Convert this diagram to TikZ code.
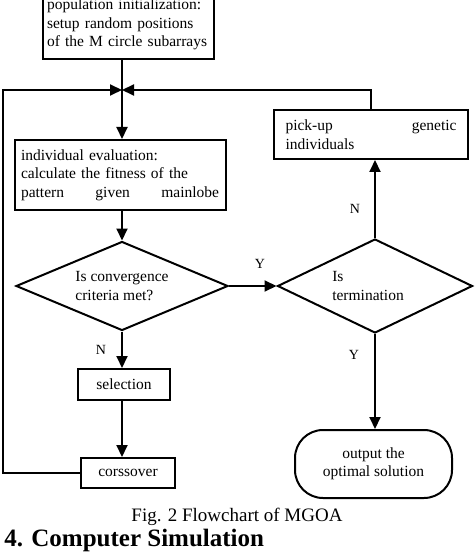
\documentclass[tikz,border=0pt]{standalone}
\usepackage{fontspec}
\setmainfont{Liberation Serif}
\usetikzlibrary{shapes.geometric,arrows.meta}
\begin{document}
\begin{tikzpicture}[x=1pt, y=-1pt, line width=2pt, >={Triangle[length=12pt,width=11pt]},
	font=\fontsize{15.5}{18.5}\selectfont,
	box/.style={draw, rectangle, inner sep=0pt, align=left},
	decision/.style={draw, diamond, inner sep=0pt, align=left},
	stop/.style={draw, rectangle, rounded corners=28pt, inner sep=0pt, align=center},
	lbl/.style={font=\fontsize{14}{16}\selectfont}]
	\useasboundingbox (0,0) rectangle (474,553);
	% boxes
	\node[box, minimum width=171, minimum height=69, text width=162] (init) at (128,24.5) {population initialization:\\setup random positions\\of the M circle subarrays};
	\node[box, minimum width=211, minimum height=70, text width=198] (eval) at (120,175) {individual evaluation:\\calculate the fitness of the\\pattern\hfill given\hfill mainlobe};
	\node[decision, minimum width=212, minimum height=89, shape aspect=2.4] (conv) at (122,286) {Is convergence\\criteria met?};
	\node[decision, minimum width=195, minimum height=94, shape aspect=2] (term) at (375,286) {};
	\node[align=left] (termtext) at (368,286) {Is\\termination};
	\node[box, minimum width=194, minimum height=49, text width=171] (pick) at (371,134.5) {pick-up\hfill genetic\\individuals};
	\node[box, align=center, minimum width=92, minimum height=31] (sel) at (124,384.5) {selection};
	\node[box, align=center, minimum width=94, minimum height=30] (cross) at (128,473) {corssover};
	\node[stop, minimum width=157, minimum height=68] (out) at (373.5,464) {output the\\optimal solution};
	% labels
	\node[lbl] (yconv) at (260,264) {Y};
	\node[lbl] (nconv) at (101,350) {N};
	\node[lbl] (nterm) at (355,209) {N};
	\node[lbl] (yterm) at (354,355) {Y};
	% connectors
	\coordinate (junc) at (122,90);
	\coordinate (lft) at (3,90);
	\draw (init.south -| junc) -- (junc);
	\draw[->] (cross.west) -| (lft) -- (junc);
	\draw[->] (pick.north) |- (junc);
	\draw[->] (junc) -- (eval.north -| junc);
	\draw[->] (eval.south -| junc) -- (conv.north);
	\draw[->] (conv.east) -- (term.west);
	\draw[->] (conv.south) -- (sel.north -| conv.south);
	\draw[->] (sel.south -| conv.south) -- (cross.north -| conv.south);
	\draw[->] (term.north) -- (pick.south -| term.north);
	\draw[->] (term.south) -- (out.north -| term.south);
	% caption
	\node[font=\fontsize{19}{22}\selectfont] (caption) at (237,517) {Fig. 2 Flowchart of MGOA};
	\node[anchor=west, font=\fontsize{25}{28}\selectfont\bfseries] (heading) at (0,540) {4. Computer Simulation};
\end{tikzpicture}
\end{document}
